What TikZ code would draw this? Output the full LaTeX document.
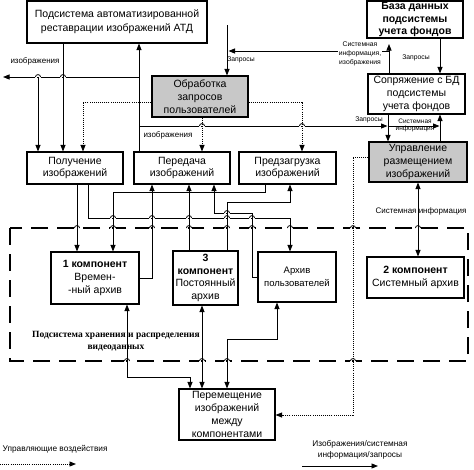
\documentclass[tikz,border=0pt]{standalone}
\usepackage{fontspec}
\setmainfont{Liberation Sans}
\newfontfamily\serifbfam{Liberation Serif}
\usetikzlibrary{arrows.meta}
\definecolor{grayfill}{HTML}{C8C8C8}
\newcommand\boxfont{\fontsize{10.5pt}{12.8pt}\selectfont}
\newcommand\topfont{\fontsize{10.5pt}{14pt}\selectfont}
\newcommand\arhfont{\fontsize{9.5pt}{13pt}\selectfont}
\newcommand\lblfont{\fontsize{8pt}{10pt}\selectfont}
\newcommand\tinyfont{\fontsize{6.8pt}{8.8pt}\selectfont}
\newcommand\tinierfont{\fontsize{6.5pt}{7pt}\selectfont}
\newcommand\legfont{\fontsize{8.3pt}{11pt}\selectfont}
\newcommand\myhop[2]{%
  \fill[white] (#1-2.6,#2-1) rectangle (#1-0.7,#2+1);
  \fill[white] (#1+0.7,#2-1) rectangle (#1+2.6,#2+1);
  \draw[line width=0.8pt] (#1-2.6,#2) .. controls (#1-2.4,#2-3.2) and (#1+2.4,#2-3.2) .. (#1+2.6,#2);
}
\begin{document}
\begin{tikzpicture}[x=1pt,y=-1pt,
  boxs/.style={draw, line width=1.1pt, inner sep=0pt, align=center, font=\boxfont},
  grayb/.style={boxs, fill=grayfill},
  conn/.style={line width=0.9pt},
  dotl/.style={line width=0.9pt, dash pattern=on 1pt off 1.1pt},
  dashbox/.style={line width=1.2pt, dash pattern=on 17pt off 9pt},
  lbl/.style={inner sep=0.5pt, align=center},
  >={Triangle[length=6.5pt,width=5pt]}]
\useasboundingbox (0,0) rectangle (474,469);
\fill[white] (0,0) rectangle (474,469);

% boxes
\node[boxs, font=\topfont, minimum width=180pt, minimum height=42pt] (top) at (117,22) {Подсистема автоматизированной\\реставрации изображений АТД};
\node[boxs, font=\boxfont\bfseries, minimum width=96pt, minimum height=37pt] (bd) at (415,19.5) {База данных\\подсистемы\\учета фондов};
\node[boxs, minimum width=97pt, minimum height=40pt] (sopr) at (416.5,94) {Сопряжение с БД\\подсистемы\\учета фондов};
\node[grayb, minimum width=96pt, minimum height=41pt] (obr) at (200,96.5) {Обработка\\запросов\\пользователей};
\node[grayb, minimum width=98pt, minimum height=40pt] (upr) at (418,162) {Управление\\размещением\\изображений};
\node[boxs, minimum width=96pt, minimum height=32pt] (pol) at (75,168) {Получение\\изображений};
\node[boxs, minimum width=96pt, minimum height=32pt] (per) at (182,168) {Передача\\изображений};
\node[boxs, minimum width=97pt, minimum height=32pt] (pred) at (287.5,168) {Предзагрузка\\изображений};
\node[boxs, minimum width=88pt, minimum height=52pt] (k1) at (95,278) {\textbf{1 компонент}\\Времен-\\-ный архив};
\node[boxs, minimum width=65pt, minimum height=54pt] (k3) at (205.5,278) {\textbf{3}\\\textbf{компонент}\\Постоянный\\архив};
\node[boxs, font=\arhfont, minimum width=78pt, minimum height=50pt] (arh) at (297,277) {Архив\\пользователей};
\node[boxs, minimum width=97pt, minimum height=41pt] (k2) at (415.5,277.5) {\textbf{2 компонент}\\Системный архив};
\node[boxs, minimum width=96pt, minimum height=51pt] (perem) at (227,414.5) {Перемещение\\изображений\\между\\компонентами};

% dashed subsystem frame
\draw[dashbox] (10,228) rectangle (468,361);
\node[lbl, font=\serifbfam\bfseries\fontsize{9.5pt}{12.5pt}\selectfont] (sublbl) at (116,341) {Подсистема хранения и распределения\\видеоданных};

% free ends
\coordinate (outL) at (3,77);
\coordinate (zapTop) at (227,25);

% top area connectors
\draw[conn,->] (139,0 |- per.north) -- (139,0 |- top.south);
\draw[conn,->] (139,77) -- (outL);
\draw[conn,->] (63,0 |- top.south) -- (63,0 |- pol.north);
\draw[conn,->] (38,77) -- (38,0 |- pol.north);
\draw[dotl,->] (obr.west |- 0,102) -- (83,102) -- (83,0 |- pol.north);
\draw[dotl,->] (202,0 |- obr.south) -- (202,0 |- per.north);
\draw[dotl,->] (obr.east |- 0,102) -- (302,102) -- (302,0 |- pred.north);
\draw[conn,->] (zapTop) -- (227,0 |- obr.north);
\draw[conn,->] (389,51) -- (228.5,51);
\draw[conn,->] (389,0 |- sopr.north) -- (389,44);
\draw[conn,->] (440,0 |- bd.south) -- (440,0 |- sopr.north);
\draw[conn,->] (388,0 |- sopr.south) -- (388,0 |- upr.north);
\draw[conn,->] (440,0 |- upr.north) -- (440,0 |- sopr.south);
\draw[conn,->] (139,126) -- (387.5,126);
\draw[conn,->] (388,126) -- (439.5,126);
\draw[conn,<->] (418,0 |- upr.south) -- (418,0 |- k2.north);
\draw[dotl,->] (upr.west |- 0,157) -- (353,157) -- (353,415) -- (perem.east |- 0,415);

% row to archives
\draw[conn,->] (77,0 |- pol.south) -- (77,0 |- k1.north);
\draw[conn,->] (265,0 |- pred.south) -- (265,192) -- (113,192) -- (113,0 |- k1.north);
\draw[conn,->] (227,0 |- k3.north) -- (227,202) -- (290,202) -- (290,0 |- pred.south);
\draw[conn,->] (arh.west |- 0,277) -- (252,277) -- (252,213) -- (214,213) -- (214,0 |- per.south);
\draw[conn,->] (88,0 |- pol.south) -- (88,218) -- (290,218) -- (290,0 |- arh.north);
\draw[conn,->] (k1.east |- 0,278) -- (152,278) -- (152,0 |- per.south);
\draw[conn,->] (189,0 |- k3.north) -- (189,0 |- per.south);

% archives to Перемещение
\draw[conn,<->] (127,0 |- k1.south) -- (127,377) -- (190,377) -- (190,0 |- perem.north);
\draw[conn,<->] (202,0 |- k3.south) -- (202,0 |- perem.north);
\draw[conn,<->] (277,0 |- arh.south) -- (277,339) -- (227,339) -- (227,0 |- perem.north);

% hops
\myhop{38}{77}\myhop{63}{77}
\myhop{202}{126}\myhop{302}{126}
\myhop{227}{213}
\myhop{113}{218}\myhop{152}{218}\myhop{189}{218}\myhop{227}{218}\myhop{252}{218}
\myhop{77}{228}\myhop{113}{228}\myhop{152}{228}\myhop{189}{228}\myhop{227}{228}\myhop{252}{228}\myhop{290}{228}\myhop{353}{228}\myhop{418}{228}
\myhop{127}{361}\myhop{202}{361}\myhop{227}{361}\myhop{353}{361}

% labels
\node[lbl, font=\lblfont] (l1) at (35,61) {изображения};
\node[lbl, font=\lblfont] (l2) at (168,135) {изображения};
\node[lbl, font=\tinyfont] (l3) at (241,60) {Запросы};
\node[lbl, font=\tinyfont, fill=white] (l4) at (360,54) {Системная\\информация,\\изображения};
\node[lbl, font=\tinyfont] (l5) at (416,58) {Запросы};
\node[lbl, font=\tinyfont] (l6) at (369,120) {Запросы};
\node[lbl, font=\tinierfont] (l7) at (415,125.5) {Системная\\информация};
\node[lbl, font=\lblfont] (l8) at (421,211) {Системная информация};

% legend
\node[lbl, font=\legfont, anchor=west] (leg1) at (2,449) {Управляющие воздействия};
\coordinate (lda) at (0,464);
\coordinate (ldb) at (76,464);
\draw[dotl,->] (lda) -- (ldb);
\node[lbl, font=\legfont] (leg2) at (360,449.5) {Изображения/системная\\информация/запросы};
\coordinate (lsa) at (302,466);
\coordinate (lsb) at (378,466);
\draw[conn,->] (lsa) -- (lsb);
\end{tikzpicture}
\end{document}
